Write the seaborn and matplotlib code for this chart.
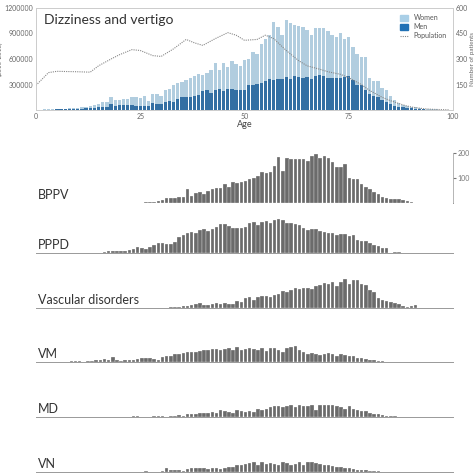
import numpy as np
import pandas as pd
import matplotlib
matplotlib.use("Agg")
import matplotlib.pyplot as plt
import seaborn as sns
from matplotlib.patches import Patch
from matplotlib.lines import Line2D
from matplotlib.ticker import FuncFormatter

sns.set_style("white")
plt.rcParams['font.family'] = ['Lato', 'DejaVu Sans']

ages = list(range(100))
total = [2,2,3,3,5,5,6,8,10,12,14,18,20,25,30,35,45,45,75,60,60,62,65,75,75,70,80,55,95,95,85,
         120,125,150,160,165,175,190,200,210,205,215,235,275,235,275,255,290,270,260,
         295,300,340,330,390,420,440,520,490,440,530,510,500,495,490,470,440,480,485,480,
         465,440,430,455,420,430,370,330,310,310,190,170,170,130,115,80,60,40,30,25,
         20,15,10,8,5,4,3,2,1,1]
men = [1,1,1,1,2,3,3,4,5,6,7,8,9,10,12,15,18,20,35,25,30,32,30,30,25,25,22,22,40,38,35,
       45,55,50,65,75,75,75,80,90,110,120,100,120,125,110,125,125,120,115,
       120,145,145,155,160,170,185,175,185,180,195,180,200,195,190,195,185,200,205,200,
       190,190,190,190,195,200,175,150,145,120,95,85,75,60,50,35,25,20,15,12,
       10,8,5,3,2,2,1,1,0,0]
pop_ages = [0,3,5,10,13,15,18,20,23,25,28,30,33,36,38,40,43,46,48,50,53,55,57,60,63,65,68,70,73,75,78,80,83,85,88,90,93,95,99]
pop_vals = [290e3,440e3,455e3,450e3,445e3,520e3,600e3,650e3,710e3,700e3,640e3,630e3,720e3,830e3,790e3,760e3,840e3,910e3,880e3,820e3,830e3,880e3,840e3,700e3,580e3,520e3,480e3,450e3,420e3,380e3,300e3,230e3,150e3,110e3,60e3,35e3,15e3,8e3,2e3]

bppv = [0]*19 + [2,2,1,2,1,2,2,4,6,5,10,12,20,22,22,25,25,55,30,40,45,35,50,55,60,60,75,65,85,80,85,
        90,95,100,110,125,120,125,150,185,130,180,175,175,178,175,170,190,195,180,190,
        180,165,145,145,155,100,95,95,75,65,55,45,35,25,20,15,15,15,12,8,5,2,1,1,0,0,0,0,0,0]
pppd = [0]*14 + [1,2,5,8,10,7,7,10,12,15,25,20,18,25,35,40,40,38,38,45,65,75,85,88,85,95,98,92,100,110,120,120,112,105,105,105,
        110,125,130,115,130,135,125,138,140,138,125,125,120,115,105,95,98,98,92,88,
        85,82,75,78,78,70,75,55,52,50,40,32,28,20,22,2,3,5,2,0,1,2,0,0,0,0,0,0,0,0]
vasc = [0]*22 + [1,0,1,1,0,1,1,0,2,2,3,5,4,8,10,12,15,20,12,12,15,20,18,20,15,18,30,25,
        40,45,35,45,50,48,45,55,60,70,65,75,85,78,85,85,80,90,95,105,100,110,90,110,120,98,
        115,115,100,95,75,65,40,35,30,25,20,18,10,5,8,12,2,1,0,0,0,0,0,0]
vm = [0,0,1,1,1,1,0,2,4,4,3,0,4,5,8,10,13,10,20,7,3,8,10,10,13,15,17,15,13,10,
      20,26,26,32,32,36,40,40,42,46,50,52,55,55,50,55,58,50,62,50,55,58,55,52,58,46,58,58,52,40,
      58,62,65,50,40,33,36,33,29,33,36,33,26,33,29,23,26,16,16,13,10,8,6,6,1,0,1,1,0,0,
      0,0,0,0,0,0,0,0,0,0]
md = [0]*16 + [1,1,1,1,1,1,0,3,3,1,0,2,4,4,3,2,3,5,8,3,12,12,14,15,18,15,20,18,28,25,20,18,28,25,
      20,25,22,35,30,32,42,45,45,42,45,48,42,48,45,45,48,30,52,52,50,50,45,40,35,45,35,28,25,25,
      15,12,12,10,5,5,3,2,0,0,1,0,0,0,0,0,0,0,0,0]
vn = [0]*26 + [3,2,1,0,5,15,8,10,8,5,12,15,15,15,15,12,15,15,12,18,20,22,28,28,32,38,40,30,42,35,38,35,30,42,
      38,30,35,40,30,42,42,38,35,30,28,25,20,20,15,15,12,10,10,8,5,4,3,2,1,1,0,0,0,0,0,0,0,0,0,0,0,0,0,0]
panels = [("BPPV", bppv), ("PPPD", pppd), ("Vascular disorders", vasc), ("VM", vm), ("MD", md), ("VN", vn)]

W = 474
fig = plt.figure(figsize=(W/100, W/100), dpi=100)
L, R = 36/W, 453/W

ax = fig.add_axes([L, 1-110/W, R-L, 102/W])
ax2 = ax.twinx()
ax.set_zorder(2); ax.patch.set_visible(False)
sns.barplot(x=ages, y=total, native_scale=True, width=0.8, color="#a9cfe7", ax=ax2, edgecolor="none")
sns.barplot(x=ages, y=men, native_scale=True, width=0.8, color="#2171b5", ax=ax2, edgecolor="none")
sns.lineplot(x=pop_ages, y=pop_vals, ax=ax, color="#888888", linestyle=(0, (1, 1)), linewidth=0.8)
ax.set_xlim(0, 100); ax2.set_xlim(0, 100)
ax.set_ylim(0, 1200000); ax2.set_ylim(0, 600)
ax.set_yticks([300000, 600000, 900000, 1200000])
ax.yaxis.set_major_formatter(FuncFormatter(lambda v, p: f"{int(v)}"))
ax2.set_yticks([150, 300, 450, 600])
ax.set_xticks([0, 25, 50, 75, 100])
for a in (ax, ax2):
    a.tick_params(labelsize=5, colors="#666666", length=0, pad=2)
    for s in a.spines.values():
        s.set_color("#cccccc"); s.set_linewidth(0.6)
ax.set_xlabel("Age", fontsize=6.5, color="#444444", labelpad=0)
ax.set_ylabel("Number of insured population\n(2015-2018)", fontsize=4.5, color="#666666", labelpad=1)
ax2.set_ylabel("Number of patients", fontsize=4.5, color="#666666")
ax2.yaxis.set_label_coords(1.04, 0.5)
ax.text(0.02, 0.88, "Dizziness and vertigo", transform=ax.transAxes, fontsize=10, color="#333333", va="center")
handles = [Patch(color="#a9cfe7", label="Women"), Patch(color="#2171b5", label="Men"),
           Line2D([], [], color="#888888", linestyle=(0, (1, 1)), linewidth=0.8, label="Population")]
ax.legend(handles=handles, loc="upper right", fontsize=5, frameon=False, handlelength=1.2,
          handleheight=0.9, labelspacing=0.3, labelcolor="#555555")

baselines = [203, 253, 308, 362, 417, 472]
for (name, vals), b in zip(panels, baselines):
    a = fig.add_axes([L, 1-b/W, R-L, 50/W])
    sns.barplot(x=ages, y=vals, native_scale=True, width=0.85, color="#6b6b6b", ax=a,
                edgecolor="white", linewidth=0.2)
    a.set_xlim(-0.5, 100); a.set_ylim(0, 208)
    a.set_xticks([]); a.set_xlabel(""); a.set_ylabel("")
    for s in ["top", "left", "right"]:
        a.spines[s].set_visible(False)
    a.spines["bottom"].set_color("#999999"); a.spines["bottom"].set_linewidth(0.7)
    a.set_yticks([])
    a.text(0.005, 0.04, name, transform=a.transAxes, fontsize=9, color="#333333", va="bottom")
    if name == "BPPV":
        a.spines["right"].set_visible(True); a.spines["right"].set_color("#aaaaaa")
        a.spines["right"].set_linewidth(0.6)
        a.yaxis.tick_right()
        a.set_yticks([100, 200])
        a.tick_params(axis="y", labelsize=5, colors="#777777", length=2, pad=1)
        a.set_ylim(0, 200)

fig.savefig("out.png", dpi=100)
